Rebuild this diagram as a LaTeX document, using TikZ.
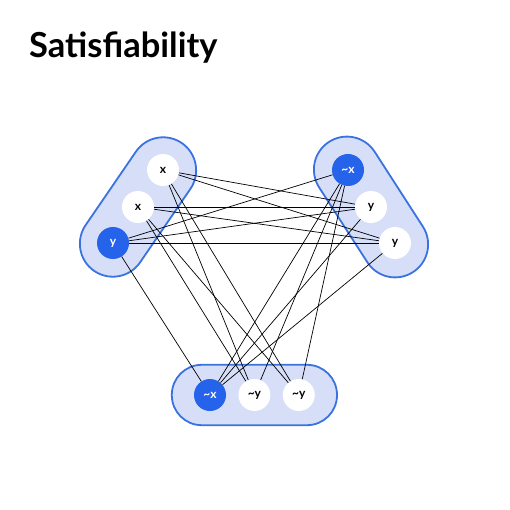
\documentclass[tikz,border=0pt]{standalone}
\usepackage{fontspec}
\setmainfont{Lato}
\usetikzlibrary{positioning, fit, backgrounds}
\definecolor{groupline}{HTML}{3A73E0}
\definecolor{groupfill}{HTML}{D6DEF8}
\definecolor{pickfill}{HTML}{2563EB}
\tikzstyle{lit} = [circle, minimum size=32pt, inner sep=0pt, fill=white, font=\bfseries\fontsize{12}{12}\selectfont]
\tikzstyle{pick} = [lit, fill=pickfill, text=white]
\tikzstyle{group} = [rectangle, draw=groupline, line width=1.8pt, fill=groupfill]
\tikzstyle{capsule} = [group, minimum width=155pt, minimum height=66pt, rounded corners=33pt]
\tikzstyle{edge} = [line width=0.7pt, black]
\begin{document}
\begin{tikzpicture}[x=1pt, y=-1pt]
\useasboundingbox (0,0) rectangle (510,510);
\node (title) [anchor=base west, inner sep=0pt, font=\bfseries\fontsize{34.5}{34.5}\selectfont] at (29,58) {Satisfiability};

% left clause
\node (lx1) [lit] at (163,170) {x};
\node (lx2) [lit] at (138,207) {x};
\node (ly) [pick] at (113,243) {y};

% right clause
\node (rnx) [pick] at (348,170) {\textasciitilde x};
\node (ry2) [lit] at (371,207) {y};
\node (ry3) [lit] at (395,243) {y};

% bottom clause
\node (bnx) [pick] at (210,395) {\textasciitilde x};
\node (bny1) [lit, right=12pt of bnx] {\textasciitilde y};
\node (bny2) [lit, right=12pt of bny1] {\textasciitilde y};

\begin{scope}[on background layer]
\node (lgroup) [capsule, rotate=55.6] at (lx2) {};
\node (rgroup) [capsule, rotate=-57.2] at (ry2) {};
\node (bgroup) [group, rounded corners=30pt, fit=(bnx) (bny2), inner xsep=22pt, inner ysep=14pt] {};
\end{scope}

\draw [edge] (lx1) -- (ry2);
\draw [edge] (lx1) -- (ry3);
\draw [edge] (lx2) -- (ry2);
\draw [edge] (lx2) -- (ry3);
\draw [edge] (ly) -- (rnx);
\draw [edge] (ly) -- (ry2);
\draw [edge] (ly) -- (ry3);

\draw [edge] (lx1) -- (bny1);
\draw [edge] (lx1) -- (bny2);
\draw [edge] (lx2) -- (bny1);
\draw [edge] (lx2) -- (bny2);
\draw [edge] (ly) -- (bnx);

\draw [edge] (rnx) -- (bnx);
\draw [edge] (rnx) -- (bny1);
\draw [edge] (rnx) -- (bny2);
\draw [edge] (ry2) -- (bnx);
\draw [edge] (ry3) -- (bnx);
\end{tikzpicture}
\end{document}
